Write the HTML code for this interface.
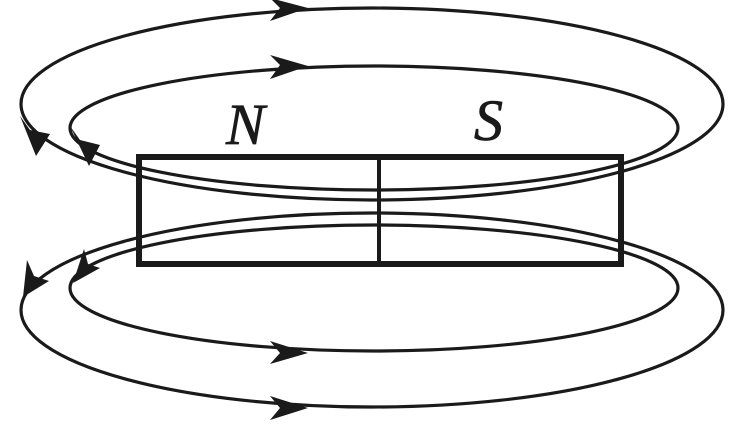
<!DOCTYPE html>
<html><head><style>body{margin:0;background:#fff}svg{display:block}.t{font-family:'Liberation Serif','DejaVu Serif',serif;font-style:italic;font-size:58px;fill:#1a1a1a;stroke:#1a1a1a;stroke-width:0.8}</style></head>
<body>
<svg width="738" height="425" viewBox="0 0 738 425" xmlns="http://www.w3.org/2000/svg">
<g fill="none" stroke="#1a1a1a" stroke-width="3.2">
<ellipse cx="372" cy="104" rx="351" ry="96"/>
<ellipse cx="374" cy="128" rx="304" ry="62"/>
<ellipse cx="374" cy="288" rx="304" ry="63"/>
<ellipse cx="372" cy="310" rx="351" ry="97"/>
</g>
<rect x="139" y="157" width="482" height="107" fill="none" stroke="#1a1a1a" stroke-width="6"/>
<line x1="379" y1="157" x2="379" y2="264" stroke="#1a1a1a" stroke-width="4"/>
<g fill="#1a1a1a">
<polygon points="308,8 270,-2 280,8 270,21"/>
<polygon points="308,66 270,55 280,65 270,79"/>
<polygon points="308,353 270,341 280,353 270,364"/>
<polygon points="308,408 270,396 280,408 270,420"/>
<polygon points="36,156 20,116 30,130 50,134"/>
<polygon points="89,166 70,126 80,140 100,145"/>
<polygon points="23,297 27,260 34,276 49,281"/>
<polygon points="73,283 84,249 88,264 100,268"/>
</g>
<text x="226" y="144" class="t">N</text>
<text x="474" y="140" class="t">S</text>
</svg>
</body></html>
